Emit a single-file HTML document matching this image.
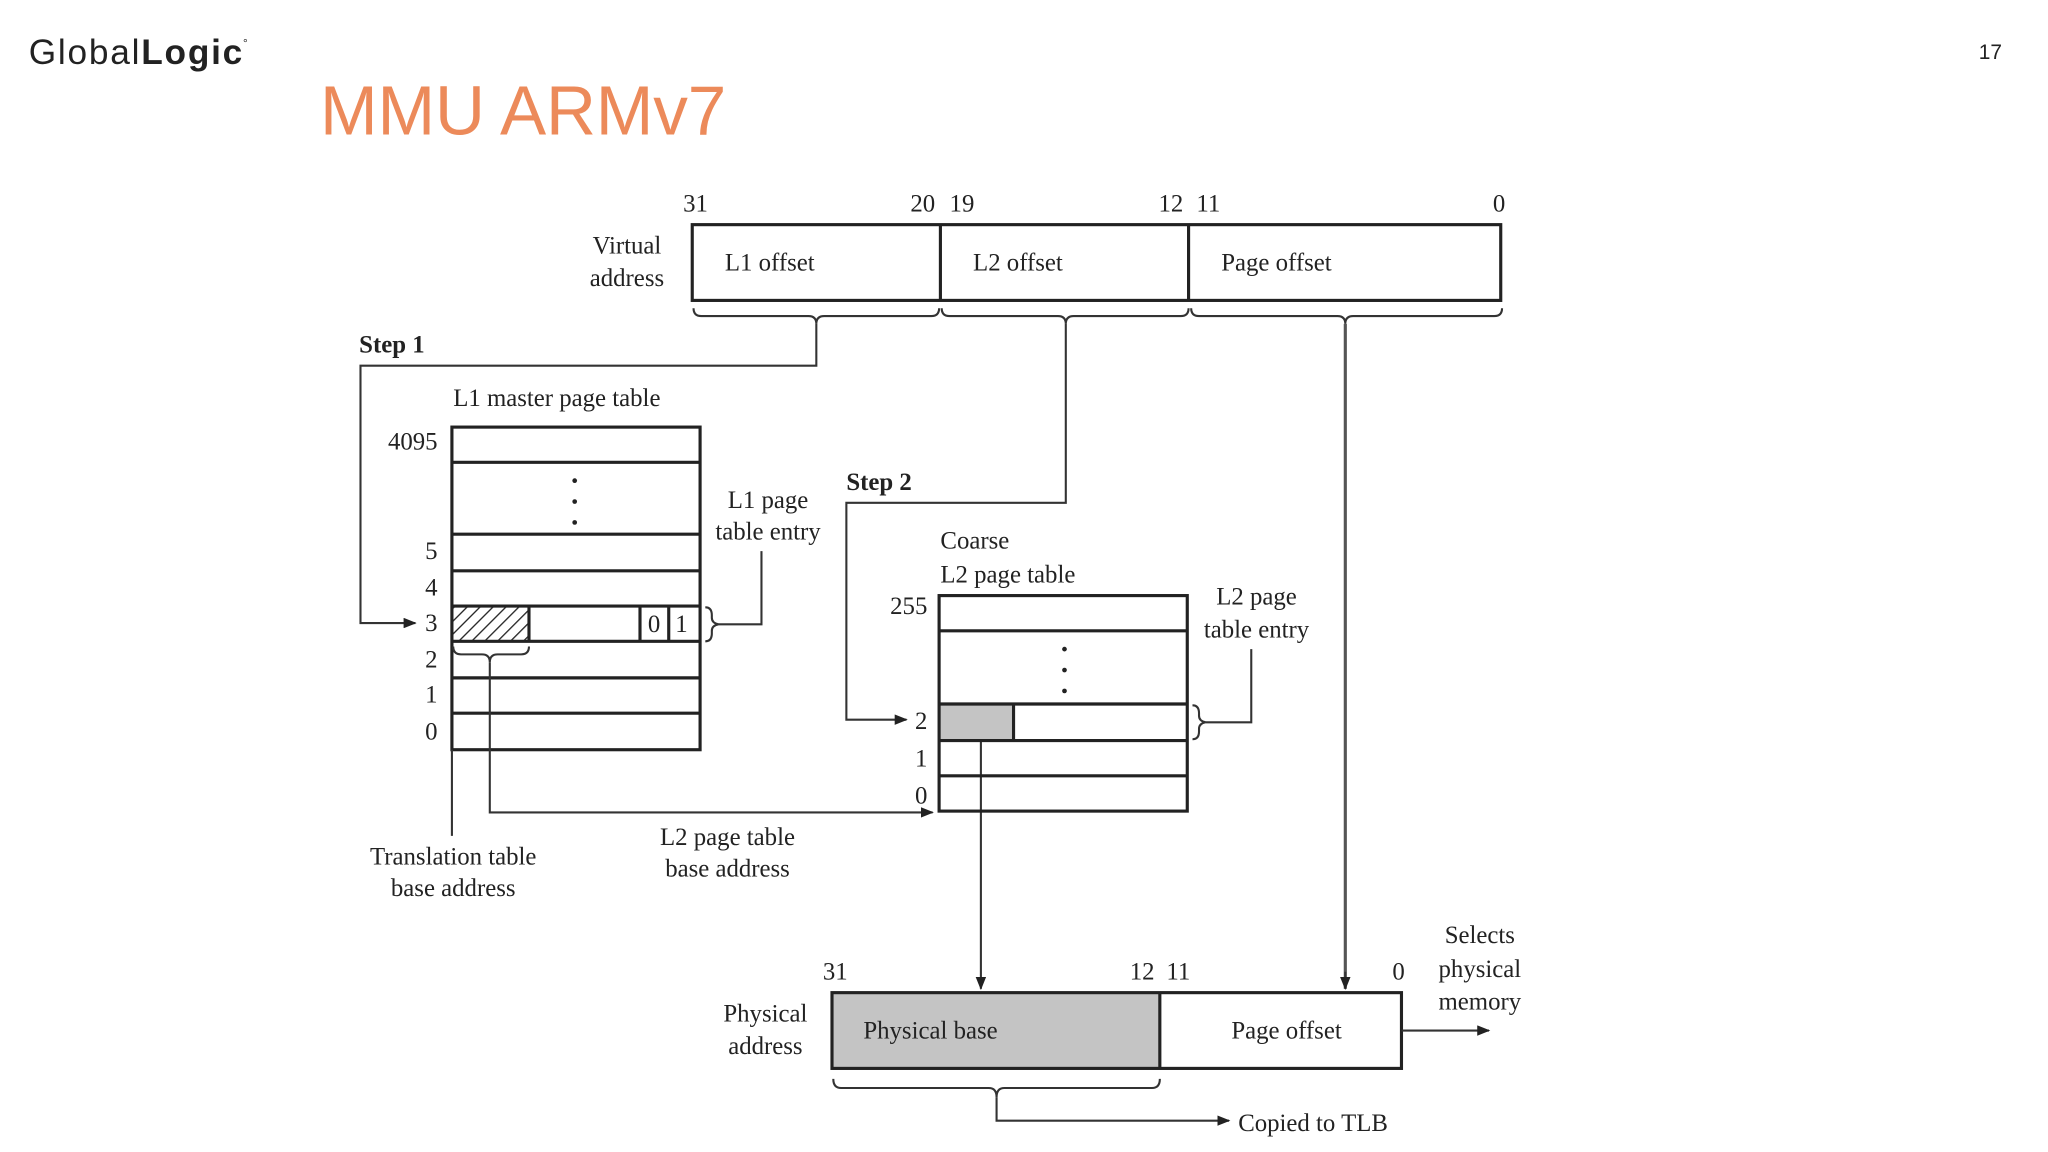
<!DOCTYPE html>
<html><head><meta charset="utf-8"><style>
html,body{margin:0;padding:0;background:#fff;width:2048px;height:1152px;overflow:hidden}
svg{display:block}
.t{font-family:"Liberation Serif",serif;font-size:19px;fill:#222}
.b{font-weight:bold}
.ln{stroke:#333;stroke-width:1.6;fill:none}
.bx{stroke:#222;stroke-width:2.4;fill:none}
</style></head><body>
<svg width="2048" height="1152" viewBox="0 0 1568 882" xmlns="http://www.w3.org/2000/svg">
<defs>
<marker id="a" markerWidth="10" markerHeight="8" refX="9" refY="4" orient="auto" markerUnits="userSpaceOnUse"><path d="M0,0 L10,4 L0,8z" fill="#222"/></marker>
<pattern id="h" width="7" height="7" patternUnits="userSpaceOnUse" patternTransform="rotate(45)"><line x1="0" y1="0" x2="0" y2="7" stroke="#222" stroke-width="2"/></pattern>
</defs>
<text x="22" y="49" font-family="Liberation Sans,sans-serif" font-size="27" letter-spacing="-0.5" fill="#222" textLength="163">Global<tspan font-weight="bold">Logic</tspan></text>
<text x="186" y="36" font-family="Liberation Sans,sans-serif" font-size="9" fill="#222">°</text>
<text x="1515" y="45" font-family="Liberation Sans,sans-serif" font-size="16" fill="#222">17</text>
<text x="245" y="103" font-family="Liberation Sans,sans-serif" font-size="53" fill="#ec8a5a" textLength="311">MMU ARMv7</text>

<g class="t">
<text x="523" y="162">31</text><text x="697" y="162">20</text><text x="727" y="162">19</text><text x="887" y="162">12</text><text x="916" y="162">11</text><text x="1143" y="162">0</text>
<text x="480" y="194" text-anchor="middle">Virtual</text><text x="480" y="219" text-anchor="middle">address</text>
<text x="555" y="207">L1 offset</text><text x="745" y="207">L2 offset</text><text x="935" y="207">Page offset</text>
</g>
<rect class="bx" x="530" y="172" width="619" height="58"/>
<line class="bx" x1="720" y1="172" x2="720" y2="230"/><line class="bx" x1="910" y1="172" x2="910" y2="230"/>
<g class="ln">
<path d="M531,236 q0,6 6,6 H619 q6,0 6,6 q0,-6 6,-6 H713 q6,0 6,-6"/>
<path d="M721,236 q0,6 6,6 H810 q6,0 6,6 q0,-6 6,-6 H904 q6,0 6,-6"/>
<path d="M912,236 q0,6 6,6 H1024 q6,0 6,6 q0,-6 6,-6 H1144 q6,0 6,-6"/>
<path d="M625,248 V280 H276 V477 H318" marker-end="url(#a)"/>
<path d="M816,248 V385 H648 V551 H694" marker-end="url(#a)"/>
<path d="M1030,248 V757" stroke-width="2.4" stroke="#555"/>
<path d="M1030,744 V757" marker-end="url(#a)"/>
<path d="M751,555 V757" marker-end="url(#a)"/>
</g>
<text class="t b" x="275" y="270">Step 1</text>
<text class="t b" x="648" y="375">Step 2</text>

<text class="t" x="347" y="311">L1 master page table</text>
<rect x="346" y="464" width="59" height="27" fill="url(#h)"/>
<g class="bx">
<rect x="346" y="327" width="190" height="247"/>
<path d="M346,354H536M346,409H536M346,437H536M346,464H536M346,491H536M346,519H536M346,546H536M405,464V491M490,464V491M512,464V491"/>
</g>
<g fill="#222"><circle cx="440" cy="368" r="1.8"/><circle cx="440" cy="384" r="1.8"/><circle cx="440" cy="400" r="1.8"/></g>
<g class="t" text-anchor="end">
<text x="335" y="344">4095</text><text x="335" y="428">5</text><text x="335" y="456">4</text><text x="335" y="483">3</text><text x="335" y="511">2</text><text x="335" y="538">1</text><text x="335" y="566">0</text>
</g>
<g class="t"><text x="496" y="484">0</text><text x="517" y="484">1</text></g>
<g class="ln">
<path d="M540,465 q5,0 5,6 v2 q0,4 5,5 q-5,1 -5,5 v2 q0,6 -5,6"/>
<path d="M550,478 H583 V422"/>
<path d="M347,495 q0,6 6,6 H369 q6,0 6,6 q0,-6 6,-6 H399 q6,0 6,-6"/>
<path d="M375,507 V622 H714" marker-end="url(#a)"/>
<path d="M346,574 V640"/>
</g>
<g class="t" text-anchor="middle">
<text x="588" y="389">L1 page</text><text x="588" y="413">table entry</text>
<text x="347" y="662">Translation table</text><text x="347" y="686">base address</text>
<text x="557" y="647">L2 page table</text><text x="557" y="671">base address</text>
</g>

<g class="t"><text x="720" y="420">Coarse</text><text x="720" y="446">L2 page table</text></g>
<rect x="719" y="539" width="57" height="28" fill="#c4c4c4"/>
<g class="bx">
<rect x="719" y="456" width="190" height="165"/>
<path d="M719,483H909M719,539H909M719,567H909M719,594H909M776,539V567"/>
</g>
<g fill="#222"><circle cx="815" cy="497" r="1.8"/><circle cx="815" cy="513" r="1.8"/><circle cx="815" cy="529" r="1.8"/></g>
<g class="t" text-anchor="end"><text x="710" y="470">255</text><text x="710" y="558">2</text><text x="710" y="587">1</text><text x="710" y="615">0</text></g>
<g class="ln">
<path d="M913,540 q5,0 5,6 v2 q0,4 5,5 q-5,1 -5,5 v2 q0,6 -5,6"/>
<path d="M923,553 H958 V497"/>
</g>
<g class="t" text-anchor="middle"><text x="962" y="463">L2 page</text><text x="962" y="488">table entry</text></g>

<rect x="637" y="760" width="251" height="58" fill="#c4c4c4"/>
<rect class="bx" x="637" y="760" width="436" height="58"/>
<line class="bx" x1="888" y1="760" x2="888" y2="818"/>
<g class="t">
<text x="630" y="750">31</text><text x="865" y="750">12</text><text x="893" y="750">11</text><text x="1066" y="750">0</text>
<text x="661" y="795">Physical base</text><text x="985" y="795" text-anchor="middle">Page offset</text>
<text x="586" y="782" text-anchor="middle">Physical</text><text x="586" y="807" text-anchor="middle">address</text>
<text x="1133" y="722" text-anchor="middle">Selects</text><text x="1133" y="748" text-anchor="middle">physical</text><text x="1133" y="773" text-anchor="middle">memory</text>
<text x="948" y="866">Copied to TLB</text>
</g>
<g class="ln">
<path d="M1073,789 H1140" marker-end="url(#a)"/>
<path d="M638,826 q0,7 6,7 H757 q6,0 6,7 q0,-7 6,-7 H882 q6,0 6,-7"/>
<path d="M763,840 V858 H941" marker-end="url(#a)"/>
</g>
</svg>
</body></html>
